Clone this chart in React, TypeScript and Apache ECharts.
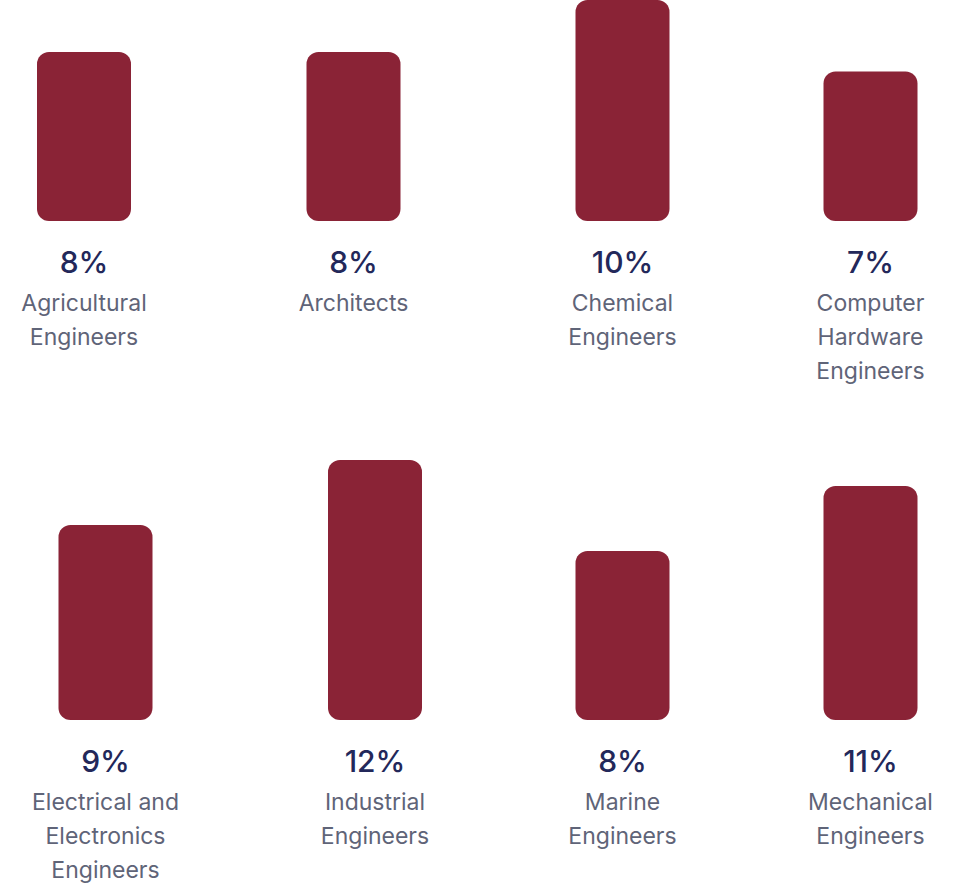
import React, { useEffect, useRef } from "react";
import * as echarts from "echarts";

const categories = [
  "Agricultural\nEngineers",
  "Architects",
  "Chemical\nEngineers",
  "Computer\nHardware\nEngineers",
  "Electrical and\nElectronics\nEngineers",
  "Industrial\nEngineers",
  "Marine\nEngineers",
  "Mechanical\nEngineers",
];
const values = [7.8, 7.8, 10.2, 6.9, 9.0, 12.0, 7.8, 10.8];
const valueLabels = ["8%", "8%", "10%", "7%", "9%", "12%", "8%", "11%"];

const centersRow1 = [84, 353.5, 622.5, 870.5];
const centersRow2 = [105.5, 375, 622.5, 870.5];
const SHIFT = 39;
const rowBottoms = [221 + SHIFT, 720 + SHIFT];
const BAR_W = 94;
const PLOT_H = 260;
const FONT = "Inter, 'Noto Sans', sans-serif";

export default function App() {
  const ref = useRef<HTMLDivElement>(null);
  useEffect(() => {
    if (!ref.current) return;
    const chart = echarts.init(ref.current, null, { renderer: "svg" });
    const grids: any[] = [];
    const xAxes: any[] = [];
    const yAxes: any[] = [];
    const series: any[] = [];
    categories.forEach((cat, i) => {
      const row = i < 4 ? 0 : 1;
      const cx = row === 0 ? centersRow1[i] : centersRow2[i - 4];
      grids.push({
        left: cx - BAR_W / 2,
        width: BAR_W,
        top: rowBottoms[row] - PLOT_H,
        height: PLOT_H,
        containLabel: false,
      });
      xAxes.push({
        type: "category",
        gridIndex: i,
        data: [cat],
        axisLine: { show: false },
        axisTick: { show: false },
        axisLabel: {
          interval: 0,
          margin: 17,
          formatter: (name: string) => {
            const lines = name.split("\n").map((l) => `{n|${l}}`);
            return `{v|${valueLabels[i]}}\n` + lines.join("\n");
          },
          rich: {
            v: {
              fontFamily: FONT,
              fontSize: 30,
              fontWeight: 500,
              color: "#23285A",
              lineHeight: 48,
              align: "center",
            },
            n: {
              fontFamily: FONT,
              fontSize: 23,
              fontWeight: 400,
              color: "#5F6478",
              lineHeight: 34,
              align: "center",
            },
          },
        },
      });
      yAxes.push({
        type: "value",
        gridIndex: i,
        min: 0,
        max: 12,
        show: false,
        splitLine: { show: false },
      });
      series.push({
        type: "bar",
        xAxisIndex: i,
        yAxisIndex: i,
        data: [values[i]],
        barWidth: "100%",
        itemStyle: { color: "#8A2336", borderRadius: 12 },
        silent: true,
      });
    });
    chart.setOption({
      animation: false,
      grid: grids,
      xAxis: xAxes,
      yAxis: yAxes,
      series,
    });
    return () => chart.dispose();
  }, []);
  return (
    <div style={{ position: "absolute", left: 0, top: 0, width: 980, height: 889, overflow: "hidden", background: "#fff" }}>
      <div
        ref={ref}
        style={{ position: "absolute", left: 0, top: -SHIFT, width: 980, height: 889 + SHIFT }}
      />
    </div>
  );
}
